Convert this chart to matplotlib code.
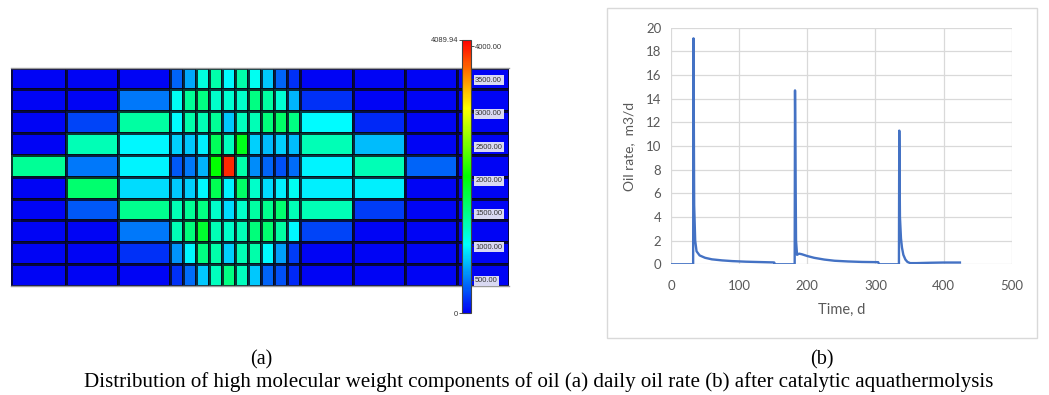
import numpy as np
import matplotlib
matplotlib.use("Agg")
import matplotlib.pyplot as plt
from matplotlib.colors import LinearSegmentedColormap, Normalize
from matplotlib.patches import Rectangle

# ---------------- data ----------------
# (a) heat map: column widths (3 wide, 10 narrow, 4 wide), 10 layers, top row first
col_widths = [4.2, 4, 4] + [1] * 10 + [4, 4, 4, 4]
n_rows = 10
hmw_values = [
    [30, 30, 30, 400, 680, 1160, 1360, 1022, 1360, 1080, 800, 400, 200, 30, 30, 30, 30],
    [30, 30, 480, 1080, 1440, 1520, 1240, 1200, 1240, 1520, 1400, 1200, 720, 200, 30, 30, 30],
    [30, 280, 1400, 1022, 1360, 1320, 1440, 800, 1280, 1320, 1560, 1640, 1520, 1022, 160, 30, 30],
    [30, 1320, 1000, 840, 800, 960, 1680, 1280, 1940, 840, 760, 840, 760, 1320, 760, 30, 30],
    [1440, 480, 980, 360, 480, 720, 2045, 3930, 1360, 560, 400, 320, 440, 980, 1320, 400, 30],
    [30, 1600, 880, 800, 840, 1000, 1720, 980, 1640, 1240, 880, 960, 1080, 960, 960, 30, 30],
    [30, 360, 1480, 1320, 1440, 1520, 1240, 880, 1240, 1400, 1480, 1600, 1320, 1320, 240, 30, 30],
    [30, 30, 480, 1320, 1560, 1860, 1320, 1240, 1320, 1560, 1600, 1400, 1000, 280, 30, 30, 30],
    [30, 30, 200, 600, 1000, 1520, 1360, 840, 1320, 1360, 1022, 640, 240, 30, 30, 30, 30],
    [30, 30, 30, 200, 440, 800, 1280, 1520, 1280, 800, 400, 320, 160, 30, 30, 30, 30],
]
cbar_min = 0.0
cbar_max = 4089.94
cbar_ticks = [500, 1000, 1500, 2000, 2500, 3000, 3500, 4000]

# (b) daily oil rate
time_d = [0, 32.5, 33, 34, 35.5, 37.5, 42, 50, 60, 75, 90, 110, 130, 150, 151.5, 152.5,
          181.5, 182, 183.5, 185, 188, 192, 200, 210, 225, 240, 260, 280, 304, 305.5,
          334.5, 335, 336, 337.5, 339, 341, 344, 347, 351, 360, 380, 400, 424]
oil_rate = [0, 0, 19.1, 5.0, 2.0, 1.1, 0.75, 0.55, 0.42, 0.33, 0.27, 0.22, 0.19, 0.16, 0.15, 0,
            0, 14.7, 2.0, 0.8, 0.9, 0.85, 0.7, 0.55, 0.4, 0.3, 0.24, 0.2, 0.18, 0,
            0, 11.3, 4.0, 2.2, 1.4, 0.8, 0.4, 0.2, 0.1, 0.1, 0.13, 0.15, 0.15]
x_ticks = [0, 100, 200, 300, 400, 500]
y_ticks = [0, 2, 4, 6, 8, 10, 12, 14, 16, 18, 20]

caption_a = "(a)"
caption_b = "(b)"
caption = ("Distribution of high molecular weight components of oil (a) daily oil rate "
           "(b) after catalytic aquathermolysis")

# ---------------- figure ----------------
W, H = 1049, 395
fig = plt.figure(figsize=(W / 100, H / 100), dpi=100)
fig.patch.set_facecolor("white")


def fx(px):
    return px / W


def fy(py):
    return 1 - py / H


cmap = LinearSegmentedColormap.from_list(
    "petrel", [(0.0, "#0000f5"), (0.25, "#00ffff"), (0.5, "#00ff00"),
               (0.75, "#ffff00"), (1.0, "#ff0000")])
norm = Normalize(vmin=cbar_min, vmax=cbar_max)

# ---- (a) heat map
axa = fig.add_axes([fx(11), fy(286), fx(509) - fx(11), fy(67.5) - fy(286)])
x_edges = np.concatenate([[0], np.cumsum(col_widths)])
y_edges = np.arange(n_rows + 1)
mesh = axa.pcolormesh(x_edges, y_edges, np.array(hmw_values), cmap=cmap, norm=norm,
                      edgecolors=(0.03, 0.03, 0.08, 0.8), linewidth=0.8)
axa.set_xlim(x_edges[0], x_edges[-1])
axa.set_ylim(n_rows, 0)
axa.set_xticks([])
axa.set_yticks([])
for s in ["left", "right"]:
    axa.spines[s].set_visible(False)
for s in ["top", "bottom"]:
    axa.spines[s].set_color("#9a9a9a")
    axa.spines[s].set_linewidth(1.0)

# colorbar
cax = fig.add_axes([fx(462), fy(313), fx(471) - fx(462), fy(40) - fy(313)])
cb = fig.colorbar(mesh, cax=cax)
cb.outline.set_edgecolor("#444444")
cb.outline.set_linewidth(0.8)
cax.yaxis.set_ticks_position("right")
cax.set_yticks(cbar_ticks)
cax.set_yticklabels(["%.2f" % t for t in cbar_ticks])
cax.tick_params(axis="y", length=2.5, width=0.6, color="#333333", pad=0.5,
                labelsize=5.4, labelcolor="#333333")
for lab, t in zip(cax.get_yticklabels(), cbar_ticks):
    lab.set_fontfamily("Liberation Sans")
    if t < 4000:
        lab.set_bbox(dict(boxstyle="square,pad=0.2", facecolor="#d9d9f2", edgecolor="none"))

cax2 = fig.add_axes(cax.get_position(), frameon=False)
cax2.set_ylim(cbar_min, cbar_max)
cax2.set_xticks([])
cax2.set_yticks([cbar_min, cbar_max])
cax2.set_yticklabels(["0", "%.2f" % cbar_max])
cax2.tick_params(axis="y", length=2.5, width=0.6, color="#333333", pad=0.5,
                 labelsize=5.4, labelcolor="#333333")
for lab in cax2.get_yticklabels():
    lab.set_fontfamily("Liberation Sans")
cax2.patch.set_visible(False)

# ---- (b) oil rate
fig.add_artist(Rectangle((fx(607), fy(338)), fx(1037) - fx(607), fy(8) - fy(338),
                         transform=fig.transFigure, fill=False,
                         edgecolor="#d9d9d9", linewidth=1.0))
axb = fig.add_axes([fx(671), fy(264.3), fx(1011.7) - fx(671), fy(27.7) - fy(264.3)])
axb.plot(time_d, oil_rate, color="#4472c4", linewidth=1.7, solid_joinstyle="round")
axb.set_xlim(0, 500)
axb.set_ylim(0, 20)
axb.set_xticks(x_ticks)
axb.set_yticks(y_ticks)
axb.grid(True, color="#d9d9d9", linewidth=0.9)
axb.set_axisbelow(True)
for s in axb.spines.values():
    s.set_visible(False)
axb.tick_params(axis="both", length=0, labelsize=9.5, labelcolor="#595959")
axb.tick_params(axis="x", pad=11)
axb.tick_params(axis="y", pad=7)
for lab in axb.get_xticklabels() + axb.get_yticklabels():
    lab.set_fontfamily("Lato")
axb.set_xlabel("Time, d", fontsize=10.5, color="#595959", family="Lato", labelpad=8)
axb.set_ylabel("Oil rate,  m3/d", fontsize=10, color="#595959", family="Lato", labelpad=8)

# ---- captions
fig.text(fx(261.5), fy(364), caption_a, ha="center", va="baseline",
         fontsize=14.5, family="Liberation Serif", color="black")
fig.text(fx(822), fy(364), caption_b, ha="center", va="baseline",
         fontsize=14.5, family="Liberation Serif", color="black")
fig.text(fx(538.7), fy(386.5), caption, ha="center", va="baseline",
         fontsize=15.1, family="Liberation Serif", color="black")

fig.savefig("out.png", dpi=100, facecolor="white")
